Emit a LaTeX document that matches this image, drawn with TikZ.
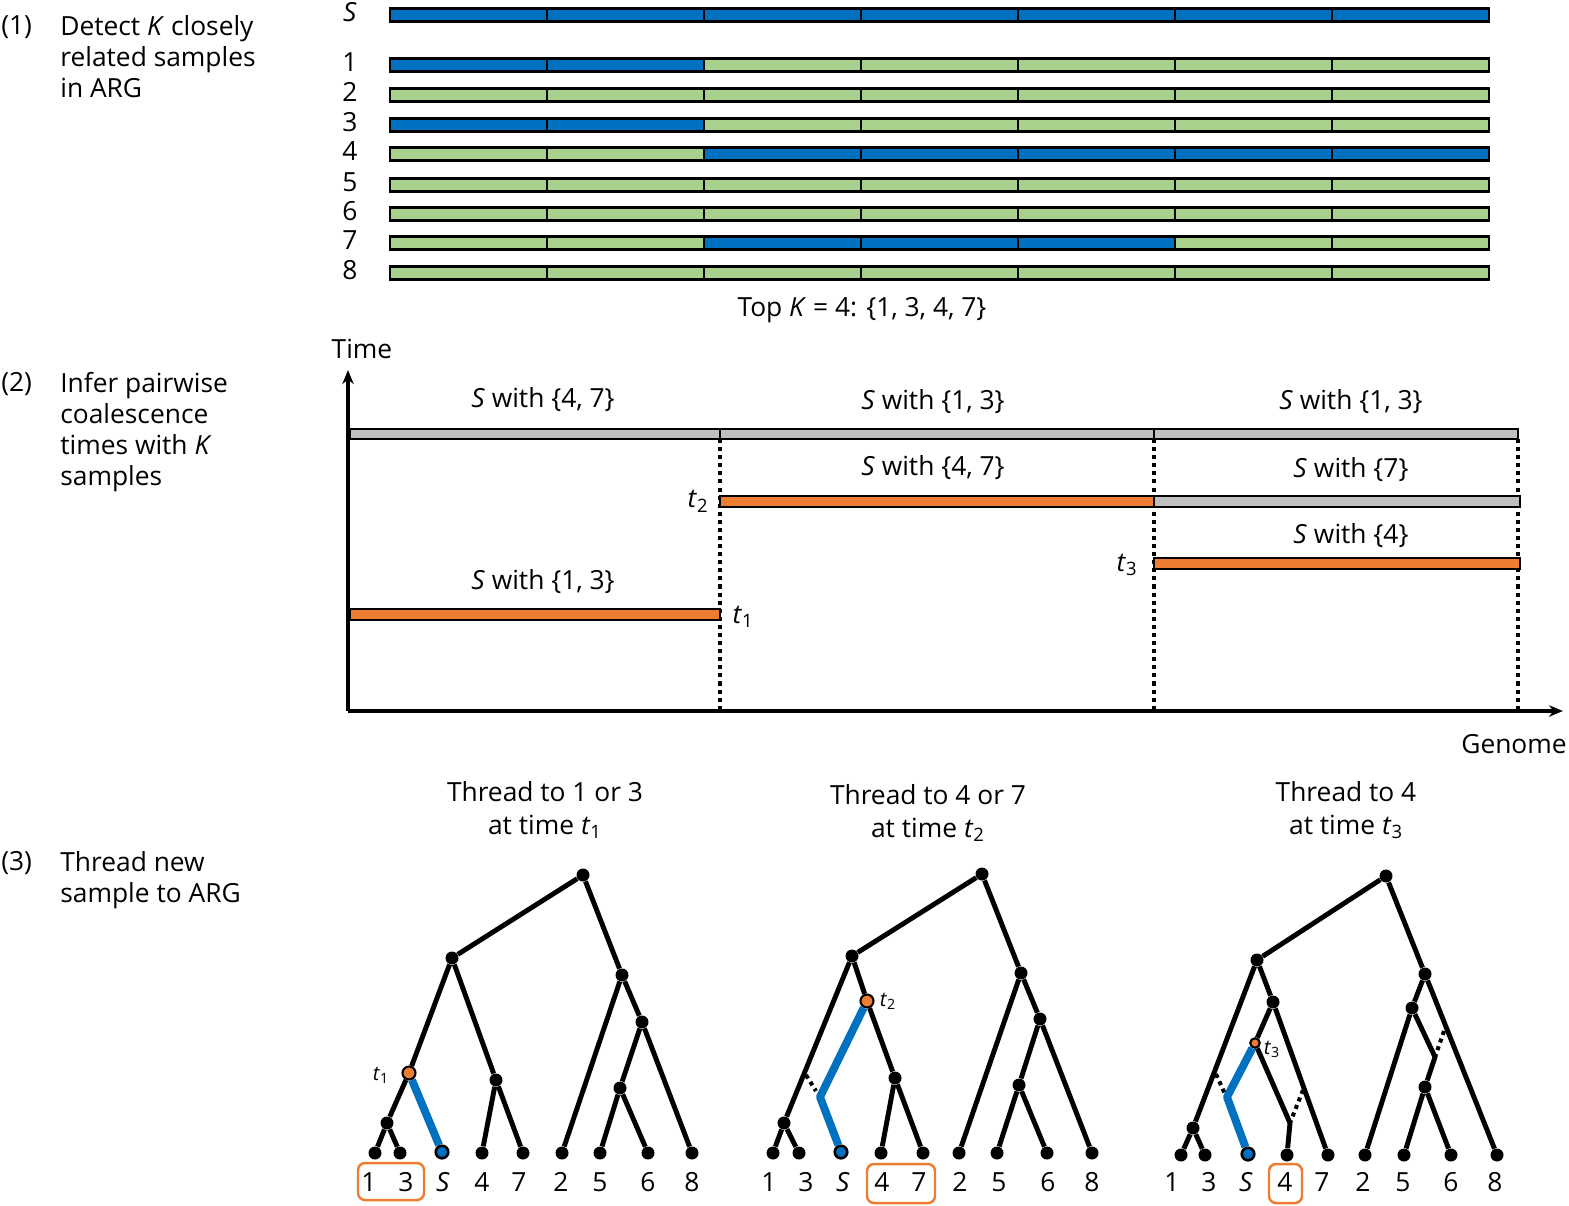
\documentclass[tikz,border=0pt]{standalone}
\usepackage{fontspec}
\setmainfont{Open Sans}
\usetikzlibrary{arrows.meta}

\definecolor{argblue}{RGB}{0,112,192}
\definecolor{arggreen}{RGB}{169,209,142}
\definecolor{argorange}{RGB}{237,125,49}
\definecolor{arggray}{RGB}{191,191,191}
\colorlet{segB}{argblue}
\colorlet{segG}{arggreen}

\tikzset{
  txt/.style={font=\fontsize{15}{17.6}\selectfont, inner sep=0pt},
  tsmall/.style={font=\fontsize{11.5}{13}\selectfont, inner sep=0pt},
  seg/.style={draw=black, line width=1.4pt},
  vtx/.style={circle, fill=black, inner sep=0pt, minimum size=0.26cm},
  tnode/.style={circle, fill=argorange, draw=black, line width=1.2pt, inner sep=0pt, minimum size=0.26cm},
  snode/.style={circle, fill=argblue, draw=black, line width=1.5pt, inner sep=0pt, minimum size=0.25cm},
  edge/.style={line width=2.8pt, line join=round},
  thread/.style={line width=4.5pt, draw=argblue, line join=round},
  dots/.style={line width=2.3pt, dash pattern=on 2.3pt off 2.3pt},
  pick/.style={draw=argorange, line width=1.4pt, rounded corners=4pt},
  axis/.style={line width=2pt, -{Stealth[length=8pt, width=6.5pt]}},
}

\begin{document}
\begin{tikzpicture}[x=0.02cm, y=-0.02cm]
\useasboundingbox (0,0) rectangle (1569,1205);

% step texts
\node[txt, anchor=north west] (n1) at (1,15) {(1)};
\node[txt, anchor=north west, align=left] (d1) at (60,15) {Detect \textit{K} closely\\related samples\\in ARG};
\node[txt, anchor=north west] (n2) at (1,372) {(2)};
\node[txt, anchor=north west, align=left] (d2) at (60,372) {Infer pairwise\\coalescence\\times with \textit{K}\\samples};
\node[txt, anchor=north west] (n3) at (1,851) {(3)};
\node[txt, anchor=north west, align=left] (d3) at (60,851) {Thread new\\sample to ARG};

% (1) haplotype bars
\foreach \yy/\lab/\cols in {15/\textit{S}/{B,B,B,B,B,B,B}, 65/1/{B,B,G,G,G,G,G},
    95/2/{G,G,G,G,G,G,G}, 125/3/{B,B,G,G,G,G,G}, 154/4/{G,G,B,B,B,B,B},
    185/5/{G,G,G,G,G,G,G}, 214/6/{G,G,G,G,G,G,G}, 243/7/{G,G,B,B,B,G,G},
    273/8/{G,G,G,G,G,G,G}} {
  \node[txt] (row\yy) at (350,\yy-3) {\lab};
  \foreach \c [count=\j] in \cols {
    \draw[seg, fill=seg\c] ({390+(\j-1)*157},\yy-6.5) rectangle ({390+\j*157},\yy+6.5);
  }
}
\node[txt] (topk) at (862,310) {Top \textit{K} = 4: \{1, 3, 4, 7\}};

% (2) pairwise coalescence times
\coordinate (O) at (348,711);
\coordinate (ytop) at (348,370);
\coordinate (xend) at (1563,711);
\draw[axis] (O) -- (ytop);
\draw[axis] (O) -- (xend);
\node[txt] (time) at (362,349) {Time};
\node[txt] (genome) at (1514,744) {Genome};

\draw[dots] (720,439) -- (720,711);
\draw[dots] (1154,439) -- (1154,711);
\draw[dots] (1518,439) -- (1518,711);

\draw[seg, fill=arggray] (350,429) rectangle (720,439);
\draw[seg, fill=arggray] (720,429) rectangle (1154,439);
\draw[seg, fill=arggray] (1154,429) rectangle (1518,439);
\draw[seg, fill=argorange] (350,609) rectangle (720,620);
\draw[seg, fill=argorange] (720,496) rectangle (1154,507);
\draw[seg, fill=arggray] (1154,496) rectangle (1520,507);
\draw[seg, fill=argorange] (1154,558) rectangle (1520,569);

\node[txt] (w1) at (543,400) {\textit{S} with \{4, 7\}};
\node[txt] (w2) at (933,402) {\textit{S} with \{1, 3\}};
\node[txt] (w3) at (1351,402) {\textit{S} with \{1, 3\}};
\node[txt] (w4) at (933,468) {\textit{S} with \{4, 7\}};
\node[txt] (w5) at (1351,470) {\textit{S} with \{7\}};
\node[txt] (w6) at (1351,536) {\textit{S} with \{4\}};
\node[txt] (w7) at (543,582) {\textit{S} with \{1, 3\}};
\node[txt] (lt1) at (743,617) {\textit{t}\textsubscript{1}};
\node[txt] (lt2) at (698,501) {\textit{t}\textsubscript{2}};
\node[txt] (lt3) at (1127,565) {\textit{t}\textsubscript{3}};

% (3) titles
\node[txt, anchor=north, align=center, font=\fontsize{15}{18.7}\selectfont] (h1) at (545,781) {Thread to 1 or 3\\at time \textit{t}\textsubscript{1}};
\node[txt, anchor=north, align=center, font=\fontsize{15}{18.7}\selectfont] (h2) at (928,784) {Thread to 4 or 7\\at time \textit{t}\textsubscript{2}};
\node[txt, anchor=north, align=center, font=\fontsize{15}{18.7}\selectfont] (h3) at (1346,781) {Thread to 4\\at time \textit{t}\textsubscript{3}};

% tree a
\node[vtx] (ar) at (583,875) {};
\node[vtx] (al) at (452,958) {};
\node[vtx] (arr) at (622,975) {};
\node[vtx] (a13) at (387,1123) {};
\node[vtx] (a47) at (496,1080) {};
\node[vtx] (a568) at (642,1022) {};
\node[vtx] (a56) at (620,1088) {};
\foreach \n/\x in {1/375, 3/400, 4/482, 7/523, 2/562, 5/600, 6/648, 8/692}
  \node[vtx] (a\n) at (\x,1153) {};
\node[snode] (aS) at (442,1152) {};
\node[tnode] (at1) at (409,1073) {};
\draw[edge] (ar) -- (al);
\draw[edge] (ar) -- (arr);
\draw[edge] (al) -- (at1);
\draw[edge] (at1) -- (a13);
\draw[edge] (a13) -- (a1);
\draw[edge] (a13) -- (a3);
\draw[edge] (al) -- (a47);
\draw[edge] (a47) -- (a4);
\draw[edge] (a47) -- (a7);
\draw[edge] (arr) -- (a2);
\draw[edge] (arr) -- (a568);
\draw[edge] (a568) -- (a56);
\draw[edge] (a56) -- (a5);
\draw[edge] (a56) -- (a6);
\draw[edge] (a568) -- (a8);
\draw[thread] (at1) -- (aS);
\node[tsmall] (at1lab) at (381,1075) {\textit{t}\textsubscript{1}};
\foreach \n/\x in {1/369, 3/406, \textit{S}/443, 4/482, 7/519, 2/561, 5/600, 6/648, 8/692}
  \node[txt] at (\x,1182) {\n};
\draw[pick] (358,1163) rectangle (424,1200);

% tree b
\node[vtx] (br) at (982,874) {};
\node[vtx] (bl) at (852,956) {};
\node[vtx] (brr) at (1021,973) {};
\node[vtx] (b13) at (784,1123) {};
\node[vtx] (b47) at (895,1078) {};
\node[vtx] (b568) at (1040,1019) {};
\node[vtx] (b56) at (1019,1085) {};
\foreach \n/\x in {1/773, 3/799, 4/881, 7/923, 2/959, 5/997, 6/1047, 8/1092}
  \node[vtx] (b\n) at (\x,1153) {};
\node[snode] (bS) at (841,1152) {};
\node[tnode] (bt2) at (867,1001) {};
\coordinate (bk) at (820,1097);
\coordinate (bd) at (806,1075);
\draw[edge] (br) -- (bl);
\draw[edge] (br) -- (brr);
\draw[edge] (bl) -- (b13);
\draw[edge] (b13) -- (b1);
\draw[edge] (b13) -- (b3);
\draw[edge] (bl) -- (bt2);
\draw[edge] (bt2) -- (b47);
\draw[edge] (b47) -- (b4);
\draw[edge] (b47) -- (b7);
\draw[edge] (brr) -- (b2);
\draw[edge] (brr) -- (b568);
\draw[edge] (b568) -- (b56);
\draw[edge] (b56) -- (b5);
\draw[edge] (b56) -- (b6);
\draw[edge] (b568) -- (b8);
\draw[dots] (bd) -- (816,1091);
\draw[thread] (bt2) -- (bk) -- (bS);
\node[tsmall] (bt2lab) at (888,1001) {\textit{t}\textsubscript{2}};
\foreach \n/\x in {1/769, 3/806, \textit{S}/843, 4/882, 7/919, 2/960, 5/999, 6/1048, 8/1092}
  \node[txt] at (\x,1182) {\n};
\draw[pick] (867,1164) rectangle (935,1203);

% tree c
\node[vtx] (cr) at (1386,876) {};
\node[vtx] (cl) at (1257,960) {};
\node[vtx] (cm) at (1273,1002) {};
\node[vtx] (crr) at (1425,974) {};
\node[vtx] (c256) at (1412,1008) {};
\node[vtx] (c13) at (1193,1128) {};
\node[vtx] (c56) at (1425,1087) {};
\foreach \n/\x in {1/1181, 3/1205, 4/1287, 7/1328, 2/1365, 5/1404, 6/1451, 8/1497}
  \node[vtx] (c\n) at (\x,1155) {};
\node[snode] (cS) at (1248,1154) {};
\node[tnode, minimum size=0.19cm] (ct3) at (1255,1043) {};
\coordinate (ck) at (1227,1097);
\coordinate (c4k) at (1290,1123);
\coordinate (c6k) at (1435,1057);
\draw[edge] (cr) -- (cl);
\draw[edge] (cr) -- (crr);
\draw[edge] (cl) -- (c13);
\draw[edge] (c13) -- (c1);
\draw[edge] (c13) -- (c3);
\draw[edge] (cl) -- (cm);
\draw[edge] (cm) -- (ct3);
\draw[edge] (ct3) -- (c4k) -- (c4);
\draw[edge] (cm) -- (c7);
\draw[edge] (crr) -- (c8);
\draw[edge] (crr) -- (c256);
\draw[edge] (c256) -- (c2);
\draw[edge] (c256) -- (c6k) -- (c56);
\draw[edge] (c56) -- (c5);
\draw[edge] (c56) -- (c6);
\draw[dots] (1216,1074) -- (1225,1094);
\draw[dots] (1303,1090) -- (c4k);
\draw[dots] (1444,1031) -- (c6k);
\draw[thread] (ct3) -- (ck) -- (cS);
\node[tsmall] (ct3lab) at (1272,1049) {\textit{t}\textsubscript{3}};
\foreach \n/\x in {1/1172, 3/1209, \textit{S}/1246, 4/1285, 7/1322, 2/1363, 5/1403, 6/1451, 8/1495}
  \node[txt] at (\x,1182) {\n};
\draw[pick] (1269,1164) rectangle (1302,1203);
\end{tikzpicture}
\end{document}
